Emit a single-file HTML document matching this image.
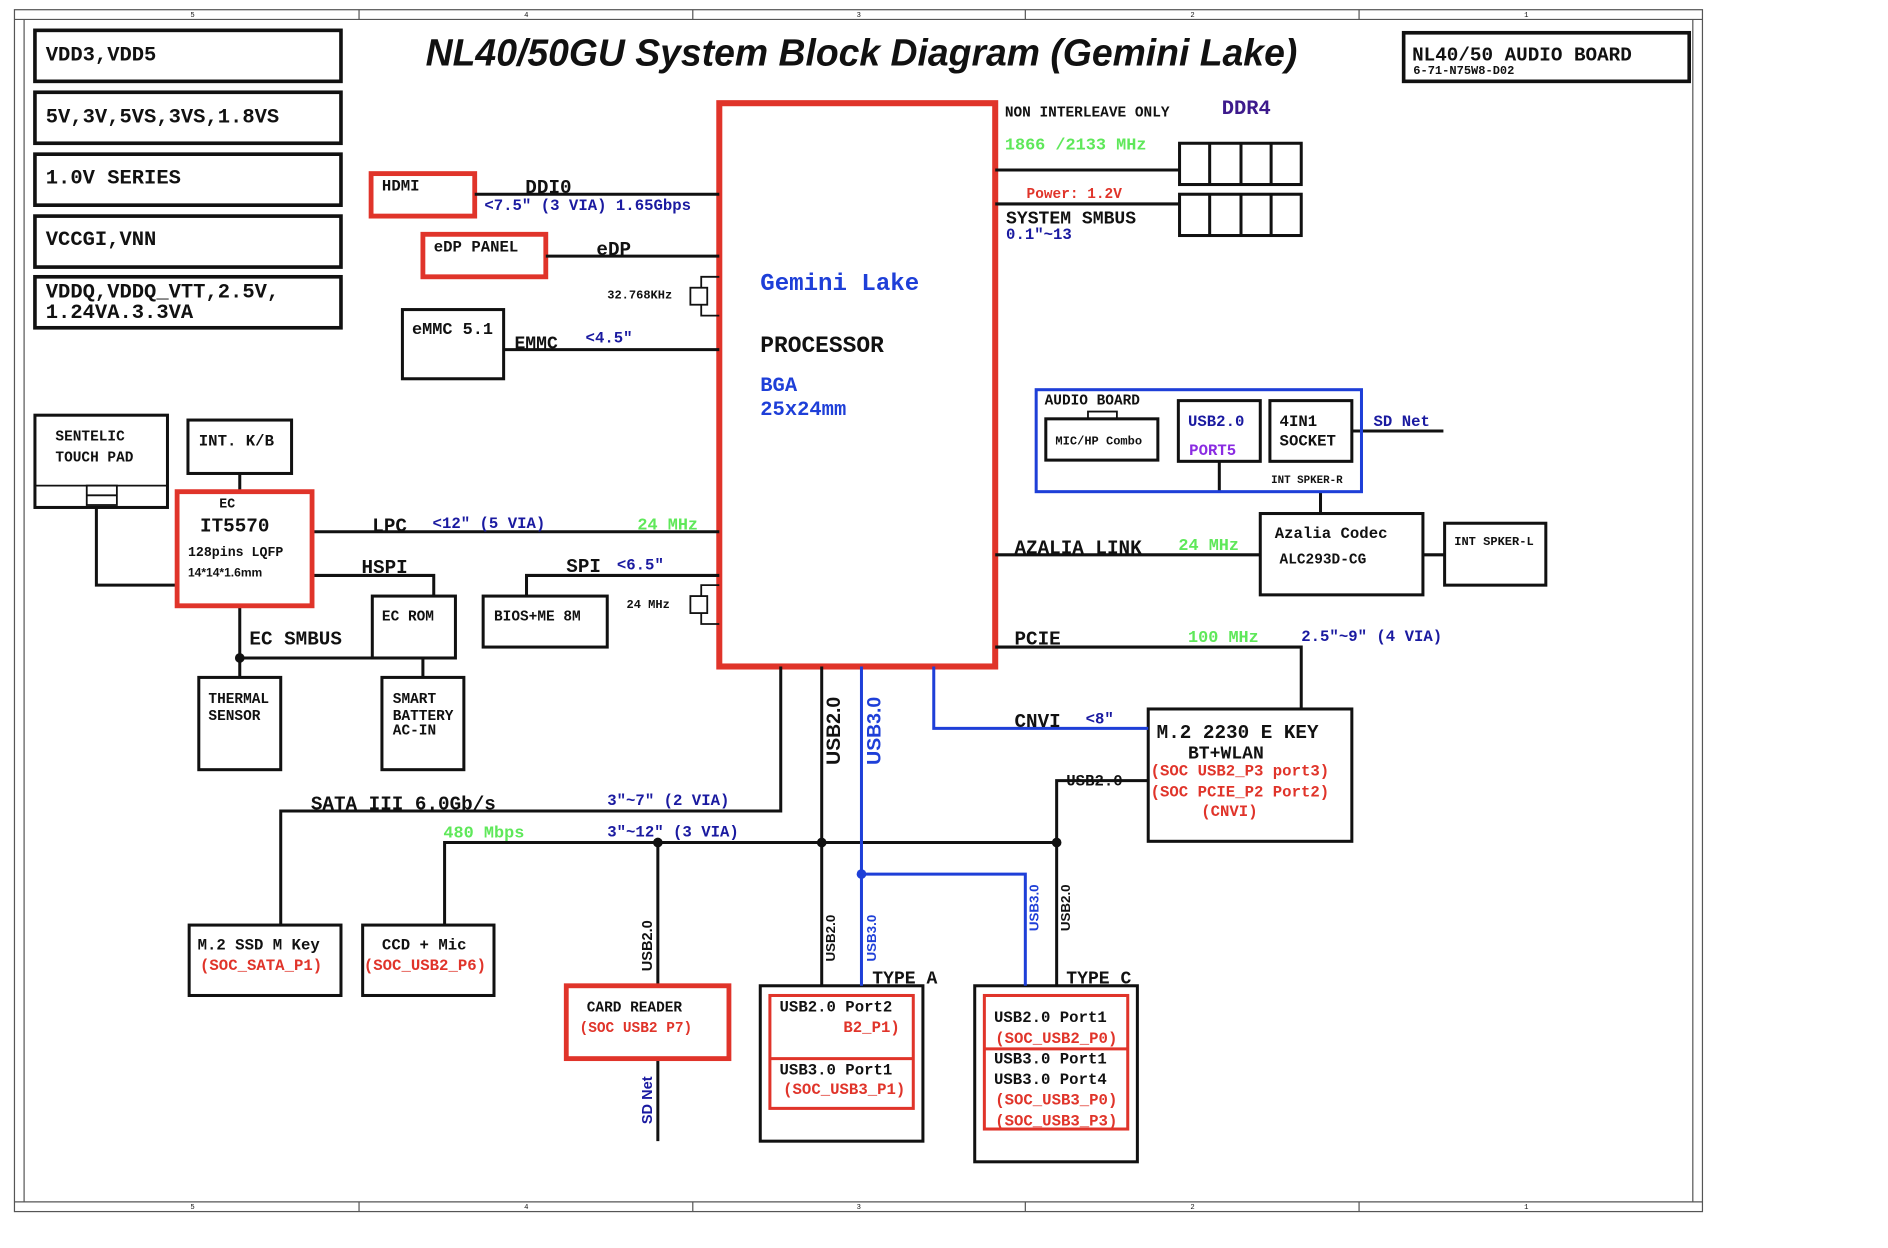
<!DOCTYPE html>
<html><head><meta charset="utf-8"><style>
html,body{margin:0;padding:0;background:#fff}
svg{display:block}
text{font-family:"Liberation Mono",monospace;font-weight:bold;fill:#111}
.b{fill:#1a1aa0}.r{fill:#e0342a}.g{fill:#5fe85a}.bl{fill:#1e3fd8}
</style></head><body>
<svg width="1888" height="1248" viewBox="0 0 1567 1028" preserveAspectRatio="none" xmlns="http://www.w3.org/2000/svg">
<g fill="none" stroke="#555" stroke-width="1">
<rect x="12" y="8" width="1401" height="990"/>
<line x1="12" y1="16" x2="1413" y2="16"/><line x1="12" y1="990" x2="1413" y2="990"/>
<line x1="20" y1="16" x2="20" y2="990"/><line x1="1405" y1="16" x2="1405" y2="990"/>
<line x1="298" y1="8" x2="298" y2="16"/><line x1="575" y1="8" x2="575" y2="16"/><line x1="851" y1="8" x2="851" y2="16"/><line x1="1128" y1="8" x2="1128" y2="16"/>
<line x1="298" y1="990" x2="298" y2="998"/><line x1="575" y1="990" x2="575" y2="998"/><line x1="851" y1="990" x2="851" y2="998"/><line x1="1128" y1="990" x2="1128" y2="998"/>
</g>
<g fill="#444">
<text x="158" y="14" style="font-size:6px;font-weight:normal">5</text><text x="435" y="14" style="font-size:6px;font-weight:normal">4</text><text x="711" y="14" style="font-size:6px;font-weight:normal">3</text><text x="988" y="14" style="font-size:6px;font-weight:normal">2</text><text x="1265" y="14" style="font-size:6px;font-weight:normal">1</text>
<text x="158" y="996" style="font-size:6px;font-weight:normal">5</text><text x="435" y="996" style="font-size:6px;font-weight:normal">4</text><text x="711" y="996" style="font-size:6px;font-weight:normal">3</text><text x="988" y="996" style="font-size:6px;font-weight:normal">2</text><text x="1265" y="996" style="font-size:6px;font-weight:normal">1</text>
</g>

<g fill="none" stroke="#111" stroke-width="3">
<rect x="29" y="25" width="254" height="42"/><rect x="29" y="76" width="254" height="42"/><rect x="29" y="127" width="254" height="42"/><rect x="29" y="178" width="254" height="42"/><rect x="29" y="228" width="254" height="42"/>
<rect x="1165" y="27" width="237" height="40"/>
</g>
<text x="38" y="50" style="font-size:17px">VDD3,VDD5</text>
<text x="38" y="101" style="font-size:17px">5V,3V,5VS,3VS,1.8VS</text>
<text x="38" y="151" style="font-size:17px">1.0V SERIES</text>
<text x="38" y="202" style="font-size:17px">VCCGI,VNN</text>
<text x="38" y="245" style="font-size:17px">VDDQ,VDDQ_VTT,2.5V,</text>
<text x="38" y="262" style="font-size:17px">1.24VA.3.3VA</text>
<text x="715" y="54" text-anchor="middle" style="font-family:'Liberation Sans',sans-serif;font-style:italic;font-size:31px">NL40/50GU System Block Diagram (Gemini Lake)</text>
<text x="1172" y="50" style="font-size:16px">NL40/50  AUDIO BOARD</text>
<text x="1173" y="61" style="font-size:10px">6-71-N75W8-D02</text>

<rect x="597" y="85" width="229" height="464" fill="none" stroke="#e0342a" stroke-width="5"/>
<text x="631" y="239" class="bl" style="font-size:20px">Gemini Lake</text>
<text x="631" y="290" style="font-size:19px">PROCESSOR</text>
<text x="631" y="322" class="bl" style="font-size:17px">BGA</text>
<text x="631" y="342" class="bl" style="font-size:17px">25x24mm</text>

<rect x="308" y="143" width="86" height="35" fill="none" stroke="#e0342a" stroke-width="4"/>
<text x="317" y="157" style="font-size:13px">HDMI</text>
<rect x="351" y="193" width="102" height="35" fill="none" stroke="#e0342a" stroke-width="4"/>
<text x="360" y="207" style="font-size:13px">eDP PANEL</text>
<g stroke="#111" stroke-width="2.5" fill="none">
<line x1="394" y1="160" x2="597" y2="160"/>
<line x1="453" y1="211" x2="597" y2="211"/>
<rect x="334" y="255" width="84" height="57"/>
<line x1="418" y1="288" x2="597" y2="288"/>
<rect x="29" y="342" width="110" height="76"/>
<rect x="156" y="346" width="86" height="44"/>
<line x1="199" y1="390" x2="199" y2="405"/>
<polyline points="80,418 80,482 147,482"/>
<line x1="259" y1="438" x2="597" y2="438"/>
<polyline points="259,474 360,474 360,491"/>
<rect x="309" y="491" width="69" height="51"/>
<polyline points="437,491 437,474 597,474"/>
<rect x="401" y="491" width="103" height="42"/>
<line x1="199" y1="499" x2="199" y2="558"/>
<polyline points="199,542 351,542 351,558"/>
<rect x="165" y="558" width="68" height="76"/>
<rect x="317" y="558" width="68" height="76"/>
<polyline points="648,549 648,668 233,668 233,762"/>
<polyline points="369,762 369,694 877,694"/>
<line x1="546" y1="694" x2="546" y2="812"/>
<line x1="546" y1="872" x2="546" y2="940"/>
<rect x="157" y="762" width="126" height="58"/>
<rect x="301" y="762" width="109" height="58"/>
<line x1="682" y1="549" x2="682" y2="812"/>
<rect x="631" y="812" width="135" height="128"/>
<rect x="809" y="812" width="135" height="145"/>
<polyline points="877,812 877,643 953,643"/>
<rect x="953" y="584" width="169" height="109"/>
<polyline points="826,533 1080,533 1080,584"/>
<line x1="826" y1="457" x2="1046" y2="457"/>
<rect x="1046" y="423" width="135" height="67"/>
<rect x="1199" y="431" width="84" height="51"/>
<line x1="1181" y1="457" x2="1199" y2="457"/>
<line x1="1096" y1="405" x2="1096" y2="423"/>
<line x1="1012" y1="380" x2="1012" y2="405"/>
<line x1="1122" y1="355" x2="1198" y2="355"/>
<rect x="868" y="345" width="93" height="34"/>
<rect x="978" y="330" width="68" height="50"/>
<rect x="1054" y="330" width="68" height="50"/>
<rect x="979" y="118" width="101" height="34"/><line x1="1004" y1="118" x2="1004" y2="152"/><line x1="1030" y1="118" x2="1030" y2="152"/><line x1="1055" y1="118" x2="1055" y2="152"/>
<rect x="979" y="160" width="101" height="34"/><line x1="1004" y1="160" x2="1004" y2="194"/><line x1="1030" y1="160" x2="1030" y2="194"/><line x1="1055" y1="160" x2="1055" y2="194"/>
<line x1="826" y1="140" x2="979" y2="140"/>
<line x1="826" y1="168" x2="979" y2="168"/>
</g>
<g stroke="#111" stroke-width="1.5" fill="none">
<line x1="29" y1="400" x2="139" y2="400"/><rect x="72" y="400" width="25" height="16"/><line x1="72" y1="408" x2="97" y2="408"/>
<rect x="903" y="339" width="24" height="6"/>
<rect x="573" y="237" width="14" height="14"/><polyline points="597,228 582,228 582,237"/><polyline points="582,251 582,260 597,260"/>
<rect x="573" y="491" width="14" height="14"/><polyline points="597,482 582,482 582,491"/><polyline points="582,505 582,514 597,514"/>
</g>
<g fill="none" stroke="#1e3fd8" stroke-width="2.5">
<rect x="860" y="321" width="270" height="84"/>
<line x1="715" y1="549" x2="715" y2="812"/>
<polyline points="715,720 851,720 851,812"/>
<polyline points="775,549 775,600 953,600"/>
</g>
<g fill="#111"><circle cx="199" cy="542" r="4"/><circle cx="546" cy="694" r="4"/><circle cx="682" cy="694" r="4"/><circle cx="877" cy="694" r="4"/></g>
<circle cx="715" cy="720" r="4" fill="#1e3fd8"/>

<rect x="147" y="405" width="112" height="94" fill="none" stroke="#e0342a" stroke-width="4"/>
<rect x="470" y="812" width="135" height="60" fill="none" stroke="#e0342a" stroke-width="4"/>
<g fill="none" stroke="#e0342a" stroke-width="2.5">
<rect x="639" y="820" width="119" height="93"/><line x1="639" y1="872" x2="758" y2="872"/>
<rect x="817" y="820" width="119" height="110"/><line x1="817" y1="864" x2="936" y2="864"/>
</g>

<text x="436" y="159" style="font-size:16px">DDI0</text>
<text x="402" y="173" class="b" style="font-size:13px">&lt;7.5" (3 VIA) 1.65Gbps</text>
<text x="495" y="210" style="font-size:16px">eDP</text>
<text x="504" y="246" style="font-size:10px">32.768KHz</text>
<text x="342" y="275" style="font-size:14px">eMMC 5.1</text>
<text x="427" y="287" style="font-size:15px">EMMC</text>
<text x="486" y="282" class="b" style="font-size:13px">&lt;4.5"</text>
<text x="46" y="363" style="font-size:12px">SENTELIC</text>
<text x="46" y="380" style="font-size:12px">TOUCH PAD</text>
<text x="165" y="367" style="font-size:13px">INT. K/B</text>
<text x="182" y="418" style="font-size:11px">EC</text>
<text x="166" y="438" style="font-size:16px">IT5570</text>
<text x="156" y="458" style="font-size:11px">128pins LQFP</text>
<text x="156" y="475" style="font-family:'Liberation Sans',sans-serif;font-size:10px">14*14*1.6mm</text>
<text x="309" y="438" style="font-size:16px">LPC</text>
<text x="359" y="435" class="b" style="font-size:13px">&lt;12" (5 VIA)</text>
<text x="529" y="436" class="g" style="font-size:14px">24 MHz</text>
<text x="300" y="472" style="font-size:16px">HSPI</text>
<text x="470" y="471" style="font-size:16px">SPI</text>
<text x="512" y="469" class="b" style="font-size:13px">&lt;6.5"</text>
<text x="520" y="501" style="font-size:10px">24 MHz</text>
<text x="317" y="511" style="font-size:12px">EC ROM</text>
<text x="410" y="511" style="font-size:12px">BIOS+ME 8M</text>
<text x="207" y="531" style="font-size:16px">EC SMBUS</text>
<text x="173" y="579" style="font-size:12px">THERMAL</text>
<text x="173" y="593" style="font-size:12px">SENSOR</text>
<text x="326" y="579" style="font-size:12px">SMART</text>
<text x="326" y="593" style="font-size:12px">BATTERY</text>
<text x="326" y="605" style="font-size:12px">AC-IN</text>
<text x="258" y="667" style="font-size:16px">SATA III 6.0Gb/s</text>
<text x="504" y="663" class="b" style="font-size:13px">3"~7"  (2 VIA)</text>
<text x="368" y="690" class="g" style="font-size:14px">480 Mbps</text>
<text x="504" y="689" class="b" style="font-size:13px">3"~12" (3 VIA)</text>
<text x="164" y="782" style="font-size:13px">M.2 SSD M Key</text>
<text x="166" y="799" class="r" style="font-size:13px">(SOC_SATA_P1)</text>
<text x="317" y="782" style="font-size:13px">CCD + Mic</text>
<text x="302" y="799" class="r" style="font-size:13px">(SOC_USB2_P6)</text>
<text x="487" y="833" style="font-size:12px">CARD READER</text>
<text x="481" y="850" class="r" style="font-size:12px">(SOC USB2 P7)</text>
<text transform="translate(541,800) rotate(-90)" style="font-family:'Liberation Sans',sans-serif;font-size:12px">USB2.0</text>
<text transform="translate(541,926) rotate(-90)" class="b" style="font-family:'Liberation Sans',sans-serif;font-size:12px">SD Net</text>
<text transform="translate(697,630) rotate(-90)" style="font-family:'Liberation Sans',sans-serif;font-size:16px">USB2.0</text>
<text transform="translate(731,630) rotate(-90)" class="bl" style="font-family:'Liberation Sans',sans-serif;font-size:16px">USB3.0</text>
<text transform="translate(693,792) rotate(-90)" style="font-family:'Liberation Sans',sans-serif;font-size:11px">USB2.0</text>
<text transform="translate(727,792) rotate(-90)" class="bl" style="font-family:'Liberation Sans',sans-serif;font-size:11px">USB3.0</text>
<text transform="translate(862,767) rotate(-90)" class="bl" style="font-family:'Liberation Sans',sans-serif;font-size:11px">USB3.0</text>
<text transform="translate(888,767) rotate(-90)" style="font-family:'Liberation Sans',sans-serif;font-size:11px">USB2.0</text>
<text x="724" y="810" style="font-size:15px">TYPE A</text>
<text x="885" y="810" style="font-size:15px">TYPE C</text>
<text x="647" y="833" style="font-size:13px">USB2.0 Port2</text>
<text x="700" y="850" class="r" style="font-size:13px">B2_P1)</text>
<text x="647" y="885" style="font-size:13px">USB3.0 Port1</text>
<text x="650" y="901" class="r" style="font-size:13px">(SOC_USB3_P1)</text>
<text x="825" y="842" style="font-size:13px">USB2.0 Port1</text>
<text x="826" y="859" class="r" style="font-size:13px">(SOC_USB2_P0)</text>
<text x="825" y="876" style="font-size:13px">USB3.0 Port1</text>
<text x="825" y="893" style="font-size:13px">USB3.0 Port4</text>
<text x="826" y="910" class="r" style="font-size:13px">(SOC_USB3_P0)</text>
<text x="826" y="927" class="r" style="font-size:13px">(SOC_USB3_P3)</text>
<text x="885" y="647" style="font-size:13px">USB2.0</text>
<text x="842" y="599" style="font-size:16px">CNVI</text>
<text x="901" y="596" class="b" style="font-size:13px">&lt;8"</text>
<text x="960" y="608" style="font-size:16px">M.2 2230 E KEY</text>
<text x="986" y="625" style="font-size:15px">BT+WLAN</text>
<text x="955" y="639" class="r" style="font-size:13px">(SOC USB2_P3 port3)</text>
<text x="955" y="656" class="r" style="font-size:13px">(SOC PCIE_P2 Port2)</text>
<text x="997" y="672" class="r" style="font-size:13px">(CNVI)</text>
<text x="842" y="531" style="font-size:16px">PCIE</text>
<text x="986" y="529" class="g" style="font-size:14px">100 MHz</text>
<text x="1080" y="528" class="b" style="font-size:13px">2.5"~9"  (4 VIA)</text>
<text x="842" y="456" style="font-size:16px">AZALIA LINK</text>
<text x="978" y="453" class="g" style="font-size:14px">24 MHz</text>
<text x="1058" y="443" style="font-size:13px">Azalia Codec</text>
<text x="1062" y="464" style="font-size:12px">ALC293D-CG</text>
<text x="1207" y="449" style="font-size:10px">INT SPKER-L</text>
<text x="867" y="333" style="font-size:12px">AUDIO BOARD</text>
<text x="876" y="366" style="font-size:10px">MIC/HP Combo</text>
<text x="986" y="351" class="b" style="font-size:13px">USB2.0</text>
<text x="987" y="375" style="font-size:13px;fill:#8a2be2">PORT5</text>
<text x="1062" y="351" style="font-size:13px">4IN1</text>
<text x="1062" y="367" style="font-size:13px">SOCKET</text>
<text x="1055" y="398" style="font-size:9px">INT SPKER-R</text>
<text x="1140" y="351" class="b" style="font-size:13px">SD Net</text>
<text x="834" y="96" style="font-size:12px">NON INTERLEAVE ONLY</text>
<text x="1014" y="94" style="font-size:17px;fill:#3d1a8c">DDR4</text>
<text x="834" y="123" class="g" style="font-size:14px">1866 /2133 MHz</text>
<text x="852" y="163" class="r" style="font-size:12px">Power: 1.2V</text>
<text x="835" y="184" style="font-size:15px">SYSTEM SMBUS</text>
<text x="835" y="197" class="b" style="font-size:13px">0.1"~13</text>
</svg>
</body></html>
